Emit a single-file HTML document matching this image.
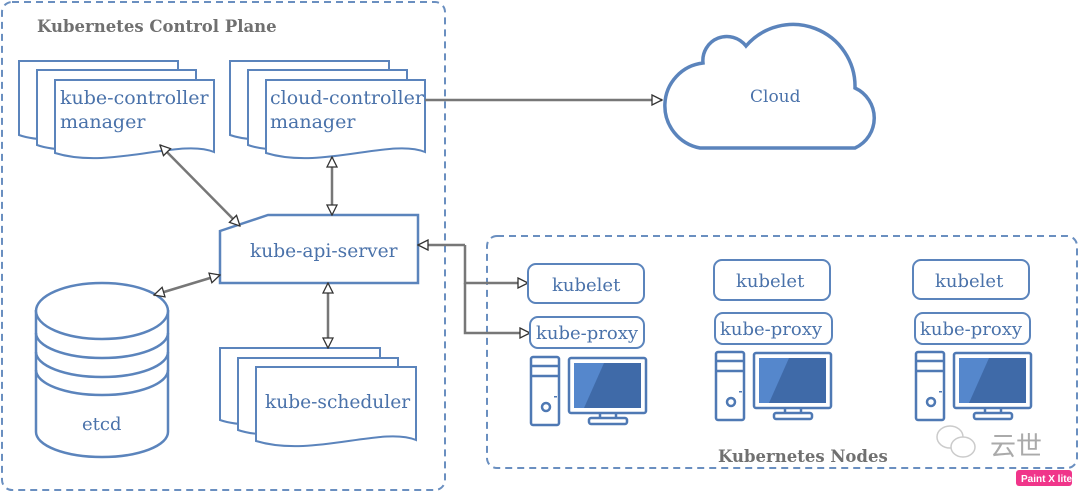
<!DOCTYPE html>
<html><head><meta charset="utf-8"><style>
html,body{margin:0;padding:0;background:#fff;}
svg{display:block;}
.t{font-family:"DejaVu Serif","Liberation Serif",serif;fill:#4a72aa;}
.h{font-family:"DejaVu Serif","Liberation Serif",serif;font-weight:bold;fill:#707070;font-size:16.5px;}
</style></head><body>
<svg width="1080" height="493" viewBox="0 0 1080 493" xmlns="http://www.w3.org/2000/svg">
<defs>
<marker id="a" viewBox="0 0 12 12" refX="11" refY="6" markerWidth="12" markerHeight="12" markerUnits="userSpaceOnUse" orient="auto-start-reverse">
<path d="M1,1 L11,6 L1,11 Z" fill="#fff" stroke="#333" stroke-width="1.3"/>
</marker>
</defs>
<g fill="none" stroke="#6a8fc0" stroke-width="2" stroke-dasharray="7,5">
<rect x="2" y="2" width="443" height="488" rx="10"/>
<rect x="487" y="236" width="590" height="232" rx="10"/>
</g>
<text class="h" x="37" y="32">Kubernetes Control Plane</text>
<text class="h" x="718" y="462">Kubernetes Nodes</text>

<g fill="#fff" stroke="#5b84bc" stroke-width="2">
<path d="M19,61 H178 V135 C150,122 60,150 19,135 Z"/>
<path d="M37,70 H196 V145 C168,132 78,160 37,145 Z"/>
<path d="M55,80 H214 V152 C180,138 110,170 55,153 Z"/>
<path d="M230,61 H389 V135 C361,122 271,150 230,135 Z"/>
<path d="M248,70 H407 V145 C379,132 289,160 248,145 Z"/>
<path d="M266,80 H425 V152 C391,138 321,170 266,153 Z"/>
<path d="M220,348 H380 V420 C352,407 262,435 220,420 Z"/>
<path d="M238,358 H398 V430 C370,417 280,445 238,430 Z"/>
<path d="M256,367 H416 V440 C382,426 312,458 256,441 Z"/>
</g>
<text class="t" font-size="19" x="60" y="104">kube-controller</text>
<text class="t" font-size="19" x="60" y="128">manager</text>
<text class="t" font-size="19" x="270" y="104">cloud-controller</text>
<text class="t" font-size="19" x="270" y="128">manager</text>
<text class="t" font-size="18.6" x="265" y="408">kube-scheduler</text>

<path d="M220,231 L268,215 H418 V283 H220 Z" fill="#fff" stroke="#5b84bc" stroke-width="2.5"/>
<text class="t" font-size="18.6" x="250" y="257">kube-api-server</text>

<g fill="#fff" stroke="#5b84bc" stroke-width="2.5">
<path d="M36,310 V432 A66,25 0 0 0 168,432 V310"/>
<ellipse cx="102" cy="311" rx="66" ry="28"/>
<path d="M36,333 A66,25 0 0 0 168,333 M36,352 A66,25 0 0 0 168,352 M36,370 A66,25 0 0 0 168,370" fill="none"/>
</g>
<text class="t" font-size="18" x="82" y="430">etcd</text>

<path d="M700,148 A43,43 0 0 1 703,63 A24,24 0 0 1 746,46 A62,62 0 0 1 855,88 A33,33 0 0 1 855,148 Z" fill="#fff" stroke="#5b84bc" stroke-width="3.5"/>
<text class="t" font-size="17" x="750" y="102">Cloud</text>

<g stroke="#777" stroke-width="2.5" fill="none">
<line x1="425" y1="100" x2="662" y2="100" marker-end="url(#a)"/>
<line x1="160" y1="145" x2="240" y2="226" marker-start="url(#a)" marker-end="url(#a)"/>
<line x1="332" y1="157" x2="332" y2="215" marker-start="url(#a)" marker-end="url(#a)"/>
<line x1="154" y1="295" x2="220" y2="275" marker-start="url(#a)" marker-end="url(#a)"/>
<line x1="328" y1="283" x2="328" y2="348" marker-start="url(#a)" marker-end="url(#a)"/>
<path d="M465,245 H418" marker-end="url(#a)"/>
<path d="M465,245 V283 H528" marker-end="url(#a)"/>
<path d="M465,283 V333 H530" marker-end="url(#a)"/>
</g>

<g fill="#fff" stroke="#5b84bc" stroke-width="2">
<rect x="528" y="264" width="116" height="39" rx="8"/>
<rect x="530" y="317" width="114" height="31" rx="8"/>
<rect x="714" y="260" width="116" height="40" rx="8"/>
<rect x="715" y="313" width="117" height="31" rx="8"/>
<rect x="913" y="260" width="116" height="39" rx="8"/>
<rect x="915" y="313" width="115" height="31" rx="8"/>
</g>
<g class="t" font-size="18">
<text x="552" y="291">kubelet</text>
<text x="536" y="339">kube-proxy</text>
<text x="736" y="287">kubelet</text>
<text x="720" y="335">kube-proxy</text>
<text x="935" y="287">kubelet</text>
<text x="920" y="335">kube-proxy</text>
</g>

<g id="pc1">
<g fill="#fff" stroke="#4f79b4" stroke-width="2.5">
<rect x="531" y="357" width="28" height="68" rx="2"/>
<line x1="531" y1="366" x2="559" y2="366"/>
<line x1="531" y1="376" x2="559" y2="376"/>
<rect x="569" y="358" width="77" height="55" rx="2"/>
<rect x="589" y="418" width="38" height="6" rx="2"/>
<line x1="600" y1="413" x2="600" y2="418"/><line x1="616" y1="413" x2="616" y2="418"/>
<circle cx="546" cy="407" r="4"/>
</g>
<rect x="554" y="396" width="3" height="1.5" fill="#4f79b4"/>
<rect x="574" y="363" width="67" height="45" fill="#3f6aa8"/>
<path d="M574,363 H604 L584,408 H574 Z" fill="#5587cc"/>
</g>
<use href="#pc1" x="185" y="-5"/>
<use href="#pc1" x="385" y="-5"/>

<g opacity="0.5" stroke="#999" fill="#fff" stroke-width="1.5">
<ellipse cx="950" cy="437" rx="13" ry="11"/>
<ellipse cx="963" cy="447" rx="12" ry="10"/>
</g>
<text x="990" y="455" font-family="'Noto Sans CJK SC',sans-serif" font-size="26" fill="#aaa">云世</text>
<rect x="1016" y="470" width="56" height="16" rx="3" fill="#f0358a"/>
<text x="1021" y="482" font-family="'Liberation Sans',sans-serif" font-size="10" font-weight="bold" fill="#fff">Paint X lite</text>
</svg>
</body></html>
